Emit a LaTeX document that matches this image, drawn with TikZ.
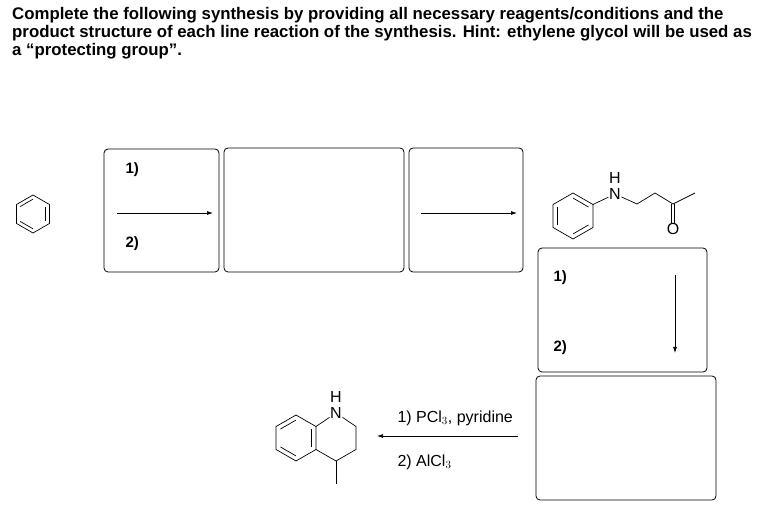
\documentclass[tikz,border=0pt]{standalone}
\usepackage{fontspec}
\setmainfont{Liberation Sans}
\usetikzlibrary{arrows.meta}
\tikzset{
  answerbox/.style={draw, rounded corners=4pt, line width=0.8pt},
  steplabel/.style={font=\bfseries\fontsize{15}{17}\selectfont, anchor=west},
  reagent/.style={font=\fontsize{16}{18}\selectfont, anchor=west},
  atom/.style={font=\fontsize{16}{18}\selectfont, inner sep=0.5pt},
  bond/.style={line width=0.7pt},
  rxn/.style={-{Latex[length=6pt,width=4pt]}, line width=0.7pt}
}
% hexagon (pointy top) with three inner double bonds
\newcommand{\benzring}[3]{%
  \draw[bond] (#1+90:#3) \foreach \a in {150,210,...,450} {-- (#1+\a:#3)} -- cycle;
  \foreach \a in {#2} {\draw[bond] (#1+\a:0.78*#3) -- (#1+\a+60:0.78*#3);}
}
\begin{document}
\begin{tikzpicture}[x=1pt,y=-1pt]
\useasboundingbox (0,0) rectangle (764,518);

\node[anchor=north west, align=left, inner sep=0pt,
      font=\bfseries\fontsize{16.8}{18}\selectfont] (question) at (12,7)
  {Complete the following synthesis by providing all necessary reagents/conditions and the\\
   product structure of each line reaction of the synthesis. Hint: ethylene glycol will be used as\\
   a ``protecting group''.};

% answer boxes
\node[answerbox, minimum width=115pt, minimum height=123pt] (box1) at (161.5,210.5) {};
\node[answerbox, minimum width=180pt, minimum height=124pt] (box2) at (314,210) {};
\node[answerbox, minimum width=114pt, minimum height=124pt] (box3) at (466,210) {};
\node[answerbox, minimum width=169pt, minimum height=124pt] (box4) at (622.5,310) {};
\node[answerbox, minimum width=180pt, minimum height=124pt] (box5) at (626,438) {};

% step labels
\node[steplabel] (s1a) at (122,170) {1)};
\node[steplabel] (s1b) at (122,244) {2)};
\node[steplabel] (s4a) at (550,278) {1)};
\node[steplabel] (s4b) at (550,348) {2)};
\node[reagent] (r1) at (394,418) {1) PCl$_3$, pyridine};
\node[reagent] (r2) at (394,462) {2) AlCl$_3$};

% reaction arrows
\coordinate (a1s) at (117,213); \coordinate (a1e) at (213,213);
\coordinate (a2s) at (421,213); \coordinate (a2e) at (517,213);
\coordinate (a3s) at (675,275); \coordinate (a3e) at (675,353);
\coordinate (a4s) at (518,436); \coordinate (a4e) at (377,436);
\draw[rxn] (a1s) -- (a1e);
\draw[rxn] (a2s) -- (a2e);
\draw[rxn] (a3s) -- (a3e);
\draw[rxn] (a4s) -- (a4e);

% benzene
\begin{scope}[shift={(33,214)}]
  \benzring{0}{90,210,330}{19}
\end{scope}

% N-phenyl aminobutanone
\begin{scope}[shift={(573,216)}]
  \benzring{0}{30,150,270}{23}
\end{scope}
\node[atom] (n1) at (615,194) {N};
\node[atom] (h1) at (615,178) {H};
\coordinate (c1) at (637,204);
\coordinate (c2) at (655,193);
\coordinate (c3) at (673,204);
\coordinate (c4) at (695,193);
\node[atom] (o1) at (673,229) {O};
\draw[bond] (593,204.5) -- (n1);
\draw[bond] (n1) -- (c1) -- (c2) -- (c3) -- (c4);
\draw[bond] ([xshift=-1.8pt]c3) -- ([xshift=-1.8pt]o1.north);
\draw[bond] ([xshift=1.8pt]c3) -- ([xshift=1.8pt]o1.north);

% 4-methyl tetrahydroquinoline
\begin{scope}[shift={(296,438)}]
  \benzring{0}{-30,90,210}{23}
\end{scope}
\node[atom] (n2) at (336,413) {N};
\node[atom] (h2) at (336,397) {H};
\coordinate (d1) at (356,426.5);
\coordinate (d2) at (356,449.5);
\coordinate (d3) at (336,461);
\coordinate (d4) at (336,484);
\draw[bond] (316,426.5) -- (n2) -- (d1) -- (d2) -- (d3) -- (316,449.5);
\draw[bond] (d3) -- (d4);
\end{tikzpicture}
\end{document}
